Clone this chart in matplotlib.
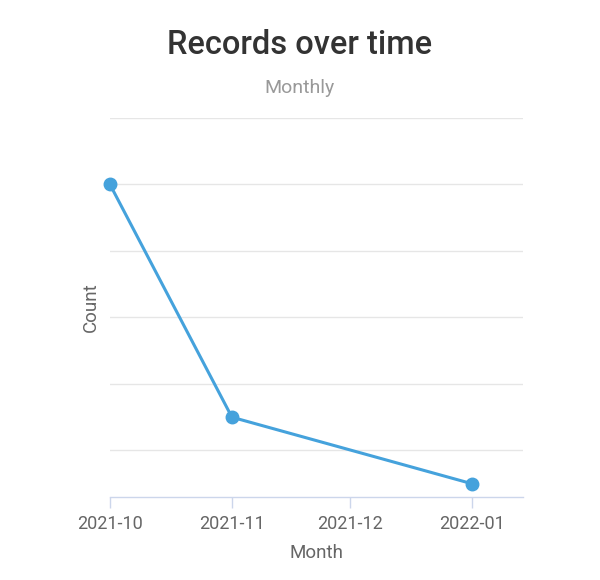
import matplotlib
matplotlib.use("Agg")
import matplotlib.pyplot as plt
import matplotlib.dates as mdates
from datetime import datetime

months = ["2021-10", "2021-11", "2022-01"]
counts = [50, 15, 5]
tick_months = ["2021-10", "2021-11", "2021-12", "2022-01"]
grid_values = [10, 20, 30, 40, 50, 60]

title = "Records over time"
subtitle = "Monthly"
x_label = "Month"
y_label = "Count"

plt.rcParams['font.family'] = ['Roboto', 'DejaVu Sans']

fig = plt.figure(figsize=(6, 5.8), dpi=100)
ax = fig.add_axes([110/600, 1-497/580, (523-110)/600, (497-118)/580])

dates = [datetime.strptime(m, "%Y-%m") for m in months]
tick_dates = [datetime.strptime(m, "%Y-%m") for m in tick_months]

ax.plot(dates, counts, color="#45a2dc", linewidth=2.2, marker="o",
        markersize=9, zorder=3, clip_on=False)

ax.set_xlim(datetime(2021, 10, 1), datetime(2022, 1, 14))
ax.set_ylim(3.0, 60)
ax.set_yticks(grid_values)
ax.set_yticklabels([])
ax.tick_params(axis='y', length=0)
ax.grid(axis='y', color="#e6e6e6", linewidth=1)
ax.set_axisbelow(True)

ax.set_xticks(tick_dates)
ax.xaxis.set_major_formatter(mdates.DateFormatter("%Y-%m"))
ax.tick_params(axis='x', length=8, width=1, color="#ccd6eb", labelcolor="#666666",
               labelsize=13, pad=5)

for s in ["top", "right", "left"]:
    ax.spines[s].set_visible(False)
ax.spines["bottom"].set_color("#ccd6eb")
ax.spines["bottom"].set_linewidth(1)

ax.set_xlabel(x_label, fontsize=13.5, color="#666666", labelpad=8)
ax.set_ylabel(y_label, fontsize=13.5, color="#666666", labelpad=4)

fig.text(0.5, 1-45/580, title, ha="center", va="center", fontsize=23.5,
         fontweight="medium", color="#333333")
fig.text(0.5, 1-88/580, subtitle, ha="center", va="center", fontsize=14,
         color="#999999")

fig.savefig("out.png", dpi=100)
